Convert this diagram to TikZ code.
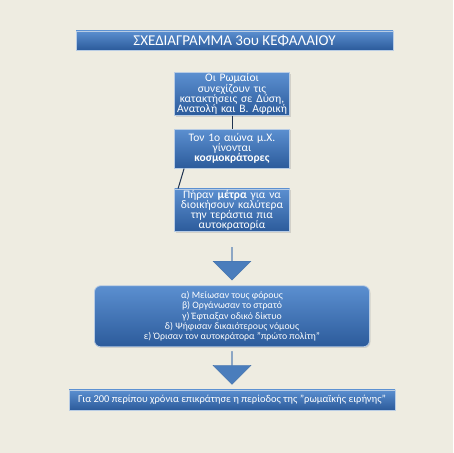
\documentclass[tikz,border=0pt]{standalone}
\usepackage{fontspec}
\setmainfont{Carlito}
\usepackage{xcolor}
\usetikzlibrary{
  positioning,
  calc,
  shapes.arrows,
  shadows,
}
\definecolor{bgtan}{HTML}{EEECE1}
\definecolor{boxtop}{HTML}{5B8FD0}
\definecolor{boxbot}{HTML}{2C5B9B}
\definecolor{boxline}{HTML}{B8CCE4}
\definecolor{arrowblue}{HTML}{4A7DBC}
\definecolor{linkcol}{HTML}{1F3350}
\tikzset{
  meta box/.style={
    rectangle,
    draw=boxline,
    line width=0.8pt,
    top color=boxtop,
    bottom color=boxbot,
    text=white,
    align=center,
    inner sep=1pt,
    drop shadow={opacity=0.25, shadow xshift=1pt, shadow yshift=-1.2pt}
  },
  punkt/.style={
    meta box,
    text width=113pt,
    minimum height=39pt,
    font=\fontsize{11.5}{10.2}\selectfont
  },
  title box/.style={
    meta box,
    minimum width=317pt,
    minimum height=19pt,
    font=\fontsize{15}{16}\selectfont
  },
  list box/.style={
    meta box,
    rounded corners=6pt,
    minimum width=275pt,
    minimum height=61pt,
    font=\fontsize{9.8}{10.4}\selectfont
  },
  end box/.style={
    meta box,
    minimum width=326pt,
    minimum height=20pt,
    font=\fontsize{10.5}{12}\selectfont
  },
  block arrow/.style={
    single arrow,
    fill=arrowblue,
    draw=arrowblue!90!black,
    line width=0.3pt,
    inner sep=0pt,
    minimum width=38pt,
    minimum height=33pt,
    single arrow head extend=9pt,
    rotate=-90
  },
  link/.style={
    linkcol,
    line width=1pt
  }
}

\begin{document}
\begin{tikzpicture}
  \fill[bgtan] (0,0) rectangle (453pt,453pt);

  \node[title box] (title) at (234.5pt,412.5pt) {ΣΧΕΔΙΑΓΡΑΜΜΑ 3ου ΚΕΦΑΛΑΙΟΥ};

  \node[punkt, below=22pt of title, xshift=-2.5pt] (conquest) {Οι Ρωμαίοι\\συνεχίζουν τις\\κατακτήσεις σε Δύση,\\Ανατολή και Β. Αφρική};
  \node[punkt, below=13pt of conquest] (rulers) {Τον 1ο αιώνα μ.Χ.\\γίνονται\\\textbf{κοσμοκράτορες}};
  \node[punkt, below=20pt of rulers] (measures) {Πήραν \textbf{μέτρα} για να\\διοικήσουν καλύτερα\\την τεράστια πια\\αυτοκρατορία};

  \draw[link] (conquest) -- (rulers);
  \draw[link] ([xshift=10pt]rulers.south west) -- ([xshift=4pt]measures.north west);

  %% block arrows and list
  \node[block arrow, below=15pt of measures, anchor=west] (arrow1) {};
  \node[list box, below=5pt of arrow1.east] (list) {α) Μείωσαν τους φόρους\\β) Οργάνωσαν το στρατό\\γ) Έφτιαξαν οδικό δίκτυο\\δ) Ψήφισαν δικαιότερους νόμους\\ε) Όρισαν τον αυτοκράτορα "πρώτο πολίτη"};
  \node[block arrow, below=4pt of list, anchor=west] (arrow2) {};
  \node[end box, below=5pt of arrow2.east] (peace) {Για 200 περίπου χρόνια επικράτησε η περίοδος της "ρωμαϊκής ειρήνης"};
\end{tikzpicture}
\end{document}
